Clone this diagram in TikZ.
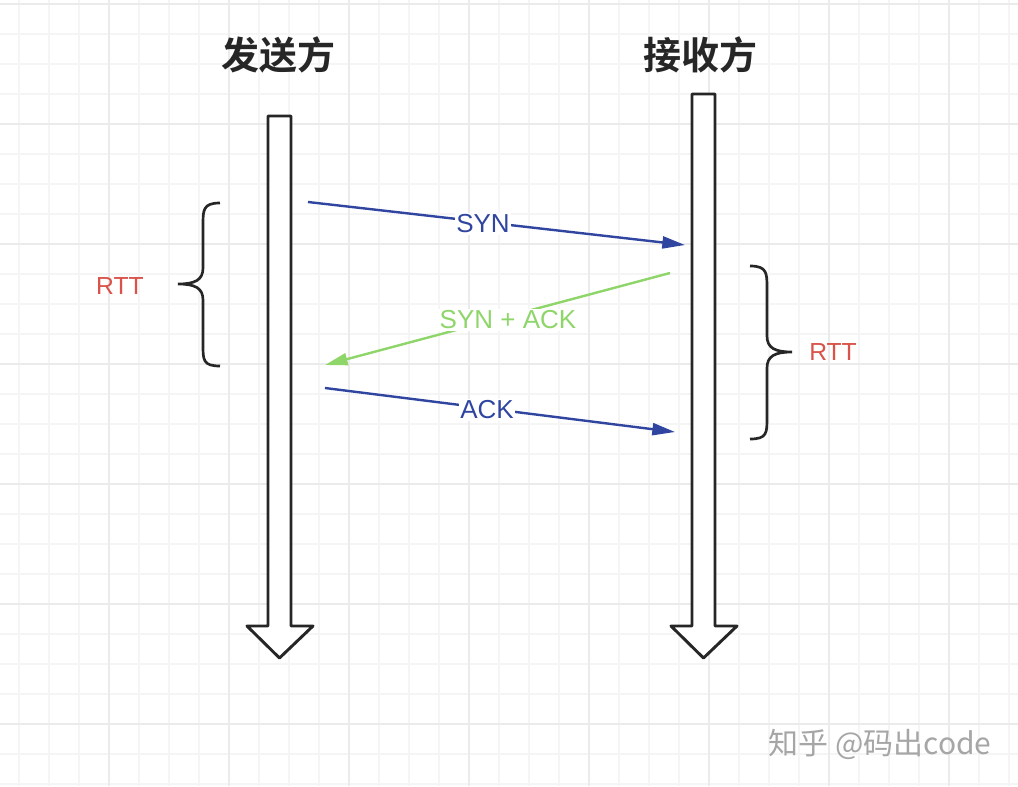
\documentclass[tikz,border=0pt]{standalone}
\usepackage{fontspec}
\setmainfont{Liberation Sans}
\newfontfamily\cjk{Noto Sans CJK SC}
\newfontfamily\cjkb{Noto Sans CJK SC Bold}
\usetikzlibrary{arrows.meta,decorations.pathreplacing}
\definecolor{synblue}{HTML}{2F45A0}
\definecolor{ackgreen}{HTML}{8FD66A}
\definecolor{rttred}{HTML}{D9534A}
\definecolor{gminor}{HTML}{F5F5F5}
\definecolor{gmajor}{HTML}{EBEBEB}
\tikzset{
  shaft/.style={draw=black!85,line width=2.2pt,fill=white,line join=round},
  msg/.style={line width=1.8pt,-{Triangle[length=17pt,width=9pt]}},
  lbl/.style={fill=white,inner sep=1pt,font=\fontsize{19.5}{22}\selectfont},
  rtt/.style={text=rttred,font=\fontsize{18.5}{22}\selectfont},
  title/.style={font=\cjkb\fontsize{28.5}{32}\selectfont,text=black!85},
  brace/.style={draw=black!85,line width=2pt}
}
\begin{document}
\begin{tikzpicture}[x=0.75pt,y=-0.75pt]
\useasboundingbox (0,0) rectangle (1018,786);
\fill[white] (0,0) rectangle (1018,786);
\foreach \x in {19,49,...,1018} \draw[gminor,line width=1.2pt] (\x,0)--(\x,786);
\foreach \y in {4,34,...,786} \draw[gminor,line width=1.2pt] (0,\y)--(1018,\y);
\foreach \x in {109,229,...,1018} \draw[gmajor,line width=1.5pt] (\x,0)--(\x,786);
\foreach \y in {4,124,...,786} \draw[gmajor,line width=1.5pt] (0,\y)--(1018,\y);
\node[title] (ts) at (278,55) {发送方};
\node[title] (tr) at (700,55) {接收方};
\draw[shaft] (268,116)--(291,116)--(291,626)--(313,626)--(279.5,658)--(247,626)--(268,626)--cycle;
\draw[shaft] (692,94)--(715,94)--(715,626)--(737,626)--(703.5,658)--(671,626)--(692,626)--cycle;
\coordinate (s1) at (308,202); \coordinate (r1) at (685,245);
\coordinate (r2) at (670,273); \coordinate (s2) at (325,365);
\coordinate (s3) at (325,388); \coordinate (r3) at (675,432);
\draw[msg,synblue] (s1)--(r1);
\node[lbl,text=synblue] (l1) at (483,224) {SYN};
\draw[msg,ackgreen] (r2)--(s2);
\node[lbl,text=ackgreen] (l2) at (508,320) {SYN + ACK};
\draw[msg,synblue] (s3)--(r3);
\node[lbl,text=synblue] (l3) at (487,410) {ACK};
\draw[brace] (220,203) .. controls (203,203) and (203,210) .. (203,225) -- (203,268) .. controls (203,280) and (195,284) .. (178,284) .. controls (195,284) and (203,288) .. (203,300) -- (203,345) .. controls (203,360) and (203,366) .. (220,366);
\draw[brace] (750,266) .. controls (767,266) and (767,273) .. (767,288) -- (767,336) .. controls (767,348) and (775,352) .. (792,352) .. controls (775,352) and (767,356) .. (767,368) -- (767,418) .. controls (767,433) and (767,439) .. (750,439);
\node[rtt] (rt1) at (120,286) {RTT};
\node[rtt] (rt2) at (833,352) {RTT};
\node[text=black!35,font=\fontsize{22.5}{26}\selectfont] (wm) at (880,744) {\cjk 知乎 @码出code};
\end{tikzpicture}
\end{document}
